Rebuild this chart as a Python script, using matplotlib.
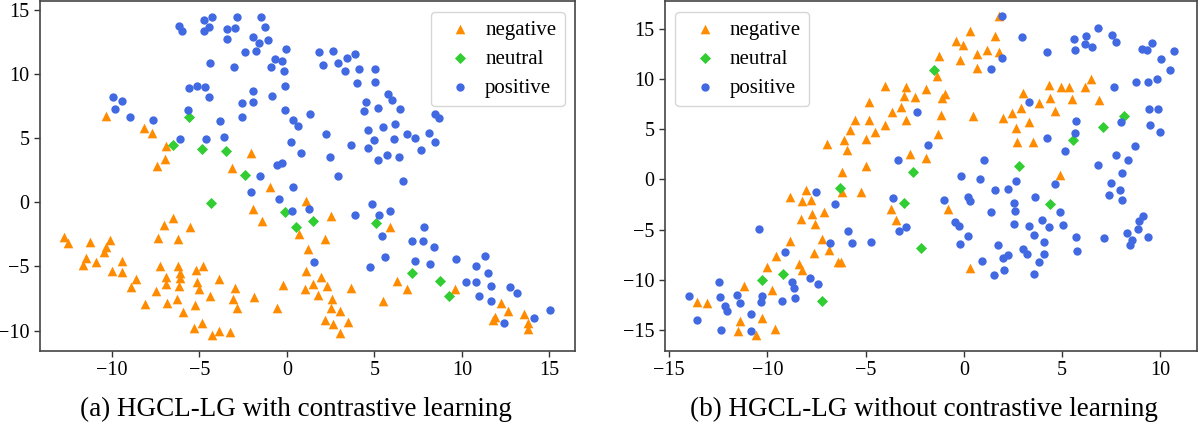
import numpy as np
import matplotlib
matplotlib.use("Agg")
import matplotlib.pyplot as plt

plt.rcParams['font.family'] = ['Liberation Serif', 'DejaVu Serif']

labels = ["negative", "neutral", "positive"]
colors = ["#FF8C00", "#32CD32", "#4169E1"]
markers = ["^", "D", "o"]
captions = ["(a) HGCL-LG with contrastive learning",
            "(b) HGCL-LG without contrastive learning"]

# (a) with contrastive learning
neg_a = [(-10.32, 6.78), (-8.17, 5.82), (-7.68, 5.43), (-6.88, 4.44), (-6.95, 3.40), (-7.39, 2.83),
         (-2.07, 3.82), (-3.12, 2.65), (-0.95, 1.19),
         (-12.72, -2.68), (-12.48, -3.2), (-11.24, -3.1), (-11.47, -4.32), (-11.67, -4.91), (-10.88, -4.63),
         (-10.46, -3.9), (-10.3, -3.51), (-10.11, -2.94), (-9.39, -4.6), (-9.96, -5.35), (-9.39, -5.41),
         (-8.63, -6.0), (-8.88, -6.63), (-7.45, -6.89), (-8.1, -7.95), (-7.35, -2.78), (-6.99, -1.79),
         (-6.5, -1.25), (-6.19, -2.84), (-5.54, -1.9), (-7.26, -4.96), (-6.91, -5.85), (-6.93, -6.39),
         (-6.82, -7.83), (-6.21, -4.96), (-6.11, -5.49), (-6.1, -5.93), (-6.17, -6.5), (-6.3, -7.54),
         (-5.92, -8.53), (-5.22, -8.0), (-5.31, -9.77), (-4.86, -9.38), (-4.29, -10.34), (-3.9, -10.03),
         (-3.27, -10.11), (-5.16, -5.28), (-4.78, -4.94), (-5.14, -6.21), (-5.01, -6.76), (-4.36, -7.33),
         (-3.9, -6.0), (-2.97, -6.65), (-3.05, -7.54), (-2.87, -8.21), (-1.85, -7.41), (-0.59, -8.24),
         (-0.21, -6.45), (-1.91, -0.55), (-1.43, -1.43),
         (1.09, 0.13), (0.69, -2.45), (2.55, -1.07), (2.19, -2.84), (1.2, -3.64), (1.07, -5.33),
         (1.01, -6.73), (1.49, -6.34), (1.96, -5.82), (2.32, -6.55), (1.79, -7.2), (2.59, -7.51),
         (2.53, -8.26), (3.05, -8.5), (2.17, -9.15), (2.65, -9.49), (3.5, -9.33), (3.05, -10.16),
         (3.67, -6.65), (5.87, -1.9), (6.29, -6.16), (6.86, -6.76), (5.5, -7.67), (9.62, -6.78),
         (12.23, -7.85), (12.63, -8.45), (11.87, -8.92), (11.79, -9.17), (13.53, -8.73), (13.75, -9.43),
         (13.75, -9.87)]
neu_a = [(-5.56, 6.67), (-6.51, 4.49), (-4.86, 4.18), (-3.47, 4.05), (-2.38, 2.15), (-4.34, -0.08),
         (-0.08, -0.73), (0.55, -1.9), (1.5, -1.46), (5.09, -1.59), (7.16, -5.53), (8.74, -6.13),
         (9.26, -7.28)]
pos_a = [(-6.15, 13.77), (-5.96, 13.35), (-4.74, 14.26), (-4.47, 13.71), (-4.74, 13.38), (-4.25, 14.44),
         (-2.84, 14.47), (-1.47, 14.47), (-3.39, 13.51), (-2.95, 13.61), (-3.41, 12.75), (-1.24, 13.69),
         (-1.92, 12.94), (-1.10, 12.70), (-1.58, 12.47), (-1.75, 11.85), (-2.4, 11.74), (-0.06, 11.95),
         (-0.70, 11.22), (-0.25, 11.01), (-0.91, 10.6), (-0.17, 10.23), (-3.03, 10.55), (-4.38, 10.91),
         (-5.56, 8.91), (-5.14, 9.06), (-4.65, 8.99), (-4.44, 8.23), (-1.92, 8.70), (-0.87, 8.34),
         (-2.57, 7.79), (-1.96, 7.87), (-9.94, 8.26), (-9.83, 7.33), (-9.39, 7.92), (-8.93, 6.67),
         (-7.64, 6.47), (-5.67, 7.22), (-3.79, 6.34), (-2.57, 6.70), (-0.13, 7.25), (0.34, 6.41),
         (0.65, 6.0), (-6.11, 4.96), (-4.59, 4.93), (-3.6, 5.07), (0.23, 4.7), (0.8, 3.87),
         (-0.55, 2.91), (-0.27, 3.06), (-1.54, 2.07), (-2.07, 0.8), (-0.47, 0.26), (0.38, 1.19),
         (-0.11, 9.09), (0.32, -0.68),
         (1.81, 11.77), (2.61, 11.85), (2.04, 10.7), (2.93, 10.91), (3.43, 11.27), (3.89, 11.61),
         (3.33, 10.29), (4.1, 10.39), (5.01, 10.44), (4.0, 9.3), (5.01, 9.38), (5.75, 8.44),
         (6.0, 7.97), (4.51, 7.84), (4.42, 7.17), (5.22, 7.4), (6.44, 7.32), (8.48, 6.94),
         (8.67, 6.55), (1.3, 6.94), (2.25, 5.32), (2.46, 3.58), (2.9, 2.1), (3.68, 4.47),
         (4.63, 5.66), (5.47, 5.9), (6.15, 6.1), (4.99, 4.88), (6.13, 4.93), (6.86, 5.32),
         (7.31, 5.01), (8.13, 5.38), (8.44, 4.75), (7.67, 4.08), (4.63, 4.21), (5.18, 3.3),
         (5.7, 3.74), (6.38, 3.53), (6.65, 1.66),
         (1.26, -0.55), (1.56, -4.65), (3.9, -1.01), (4.88, -0.11), (5.27, -0.97), (5.92, -0.7),
         (5.43, -2.6), (5.62, -4.26), (4.76, -5.07), (7.14, -3.04), (7.75, -3.04), (7.85, -1.95),
         (8.42, -3.51), (7.31, -4.58), (8.19, -4.83), (9.66, -4.44), (10.21, -6.19), (10.8, -6.24),
         (10.82, -4.96), (11.31, -4.21), (11.49, -5.53), (11.66, -6.52), (10.97, -7.28), (11.64, -7.67),
         (12.74, -6.58), (13.14, -7.09), (12.42, -9.41), (14.11, -9.04), (15.05, -8.39)]

# (b) without contrastive learning
neg_b = [(-4.01, 9.38), (-2.96, 9.21), (-3.05, 8.31), (-2.49, 8.25), (-1.93, 9.05), (-4.83, 7.71),
         (-3.2, 7.21), (-3.66, 6.71), (-5.54, 5.98), (-4.84, 5.98), (-2.96, 5.98), (-3.99, 5.41),
         (-5.77, 4.95), (-4.54, 4.78), (-4.99, 4.05), (-6.11, 3.95), (-5.96, 2.91), (-6.99, 3.55),
         (-2.72, 2.58), (-1.93, 2.15), (-4.96, 1.38), (-6.2, 0.71),
         (1.81, 16.31), (0.31, 14.81), (1.58, 14.38), (-0.41, 13.85), (-0.03, 13.41), (1.19, 12.98),
         (0.68, 12.55), (1.8, 12.75), (-1.25, 12.35), (-0.2, 11.91), (0.66, 11.18), (-1.35, 10.35),
         (-1.12, 8.18), (-0.95, 8.58), (-1.15, 6.48), (0.49, 6.38), (-1.32, 4.51),
         (3.02, 8.68), (4.35, 9.45), (4.96, 9.25), (5.34, 9.25), (6.17, 9.25), (6.45, 10.05),
         (4.39, 8.15), (3.85, 7.68), (5.51, 8.08), (6.9, 7.91), (2.92, 7.18), (2.46, 6.61),
         (1.98, 6.15), (4.66, 6.85), (3.34, 5.75), (2.68, 5.11), (2.71, 3.71), (3.5, 3.78),
         (4.88, 0.41),
         (-8.86, -1.79), (-8.04, -1.09), (-8.26, -2.19), (-7.79, -2.09), (-6.2, -1.29), (-5.25, -1.25),
         (-7.75, -3.42), (-8.28, -3.92), (-7.59, -4.42), (-7.14, -3.22), (-3.69, -2.92), (-3.45, -4.09),
         (-8.87, -6.12), (-7.21, -5.92), (-9.57, -7.65), (-6.86, -7.02), (-7.64, -7.35), (-8.38, -8.42),
         (-8.25, -9.09), (-6.43, -8.25), (-6.27, -8.25), (-10.04, -8.75), (-9.77, -11.02), (-11.18, -10.65),
         (-13.58, -12.22), (-13.06, -12.35), (-11.4, -14.12), (-10.28, -13.79), (-11.51, -15.12),
         (-10.57, -15.49), (-9.63, -14.95),
         (-0.79, -2.95), (0.31, -8.85)]
neu_b = [(-6.3, -0.85), (-2.61, 0.78), (-1.52, 10.98), (8.15, 6.38), (7.06, 5.21), (5.56, 3.91),
         (2.83, 1.31), (-3.05, -2.39), (-2.17, -6.82), (-9.23, -9.45), (-10.28, -10.02), (-7.22, -12.19),
         (4.39, -2.42)]
pos_b = [(-2.4, 6.78), (-3.33, 1.98), (-1.84, 3.41),
         (1.92, 16.31), (2.97, 14.25), (4.24, 12.75), (1.95, 12.11), (1.36, 11.08), (5.61, 14.08),
         (6.23, 14.31), (6.17, 13.55), (5.66, 12.95), (6.5, 13.25), (6.83, 15.15), (7.52, 14.41),
         (7.76, 13.71), (9.07, 13.05), (9.3, 12.95), (9.6, 13.68), (10.69, 12.85), (10.05, 12.05),
         (10.49, 10.91), (9.83, 10.05), (9.4, 9.75), (8.78, 9.71), (7.67, 9.25), (9.44, 7.05),
         (9.89, 7.05), (9.49, 5.41), (9.99, 4.75), (8.01, 5.75), (5.73, 5.81), (5.64, 4.61),
         (4.25, 4.11), (5.13, 2.81), (3.34, 7.71), (1.02, 1.95), (-0.15, 0.31), (0.8, 0.05),
         (2.66, -0.12), (6.84, 1.41), (7.74, 2.41), (8.38, 1.95), (8.71, 3.38), (8.06, 0.68),
         (-7.5, -1.25), (-6.57, -2.42), (-3.61, -1.89), (-3.32, -5.19), (-2.96, -4.79), (-5.89, -5.15),
         (-5.71, -6.32), (-4.74, -6.22), (-6.79, -6.35), (-9.11, -7.22), (-10.43, -4.99), (-12.46, -10.29),
         (-14.0, -11.62), (-12.4, -11.72), (-12.18, -12.62), (-12.06, -13.15), (-11.55, -11.52),
         (-11.4, -12.35), (-13.6, -14.02), (-12.35, -15.02), (-10.85, -13.42), (-10.84, -15.09),
         (-10.26, -11.69), (-10.33, -12.29), (-8.77, -10.22), (-8.65, -10.82), (-8.57, -11.89),
         (-9.28, -12.12), (-7.82, -9.89), (-7.4, -10.42),
         (1.61, -1.02), (2.27, -0.95), (4.64, -0.42), (3.64, -1.72), (-1.02, -2.09), (0.19, -1.79),
         (0.31, -2.12), (1.39, -3.25), (2.53, -2.39), (2.58, -3.15), (2.56, -4.45), (-0.44, -4.25),
         (-0.25, -4.69), (0.22, -5.65), (-0.22, -6.49), (1.75, -6.59), (0.93, -8.12), (1.98, -7.85),
         (2.24, -7.52), (1.56, -9.59), (2.02, -9.09), (3.0, -6.95), (3.2, -7.42), (3.3, -4.65),
         (3.59, -5.52), (4.0, -4.09), (4.32, -4.79), (4.09, -6.22), (4.07, -7.45), (3.83, -8.25),
         (3.56, -9.42), (4.9, -3.25), (5.07, -4.59), (5.71, -5.72), (5.74, -7.19), (7.13, -5.85),
         (7.49, -0.35), (7.37, -1.59), (7.93, -1.05), (8.03, -2.02), (9.1, -3.62), (8.94, -4.19),
         (8.89, -4.92), (8.3, -5.35), (8.56, -6.05), (8.44, -6.59), (9.37, -5.79)]

sizes = [48, 32, 36]

fig = plt.figure(figsize=(12, 4.24), dpi=100)
ax1 = fig.add_axes([0.0333, 0.173, 0.4459, 0.824])
ax2 = fig.add_axes([0.5542, 0.173, 0.4433, 0.824])

panels = [(ax1, [neg_a, neu_a, pos_a], "upper right", (-14.1, 16.46), (-11.57, 15.7)),
          (ax2, [neg_b, neu_b, pos_b], "upper left", (-15.21, 11.87), (-17.1, 17.8))]

for ax, groups, loc, xl, yl in panels:
    for pts, lab, c, m, s in zip(groups, labels, colors, markers, sizes):
        arr = np.array(pts)
        ax.scatter(arr[:, 0], arr[:, 1], s=s, c=c, marker=m, linewidths=0, label=lab)
    ax.set_xlim(*xl)
    ax.set_ylim(*yl)
    ax.tick_params(labelsize=14.5, length=4, width=1, color="#333333")
    for sp in ax.spines.values():
        sp.set_color("#444444")
        sp.set_linewidth(1.2)
    ax.legend(loc=loc, fontsize=15, handletextpad=0.2, borderpad=0.4, labelspacing=0.45,
              scatterpoints=1)

ax1.set_xticks([-10, -5, 0, 5, 10, 15])
ax1.set_yticks([-10, -5, 0, 5, 10, 15])
ax2.set_xticks([-15, -10, -5, 0, 5, 10])
ax2.set_yticks([-15, -10, -5, 0, 5, 10, 15])

fig.text(296 / 1200, 0.035, captions[0], ha="center", va="center", fontsize=19.5)
fig.text(924 / 1200, 0.035, captions[1], ha="center", va="center", fontsize=19.5)

fig.savefig("out.png", dpi=100)
